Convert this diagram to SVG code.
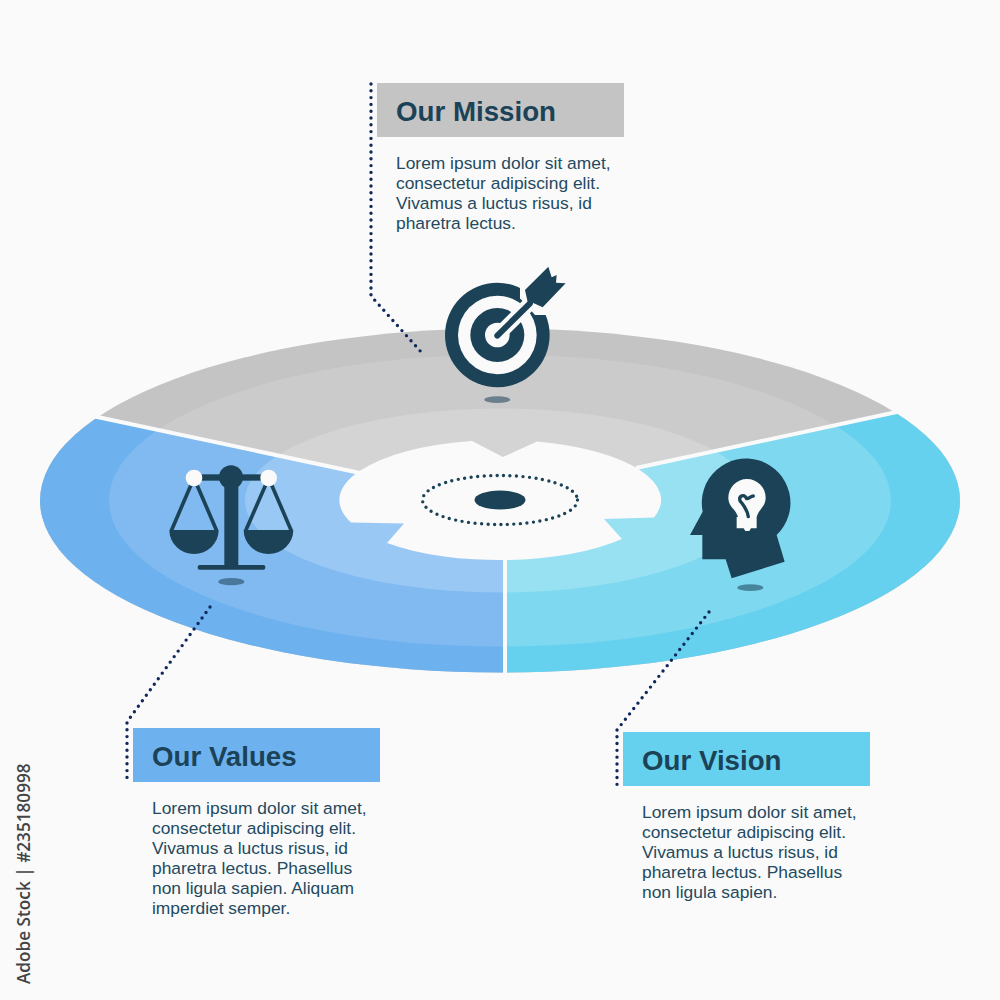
<svg xmlns="http://www.w3.org/2000/svg" width="1000" height="1000" viewBox="0 0 1000 1000">
<style>
.ink{fill:#1c4257}
.shadow{fill:#1c4257;opacity:.55}
.title{font-family:"Liberation Sans",Arial,sans-serif;font-weight:700;font-size:27.700px;fill:#1c4257}
.body{font-family:"Liberation Sans",Arial,sans-serif;font-size:17.400px;fill:#234a60}
.dot{fill:none;stroke:#10295a;stroke-width:3.400;stroke-linecap:round;stroke-dasharray:0 6.800}
.sep{stroke:#fafafa;stroke-width:4;fill:none}
.str{fill:none;stroke:#1c4257;stroke-width:11}
</style>
<defs>
<clipPath id="cb"><polygon points="0,396 503,503 503,700 0,700"/></clipPath>
<clipPath id="cc"><polygon points="507,496 1000,390 1000,700 507,700"/></clipPath>
</defs>
<rect width="1000" height="1000" fill="#fafafa"/>
<g id="disk">
<g id="wedge-mission">
<ellipse cx="500" cy="500.500" rx="460" ry="172" fill="#c4c4c4"/>
<ellipse cx="500" cy="500.500" rx="391" ry="146" fill="#cbcbcb"/>
<ellipse cx="500" cy="500.500" rx="255" ry="92" fill="#d4d4d4"/>
</g>
<g id="wedge-values" clip-path="url(#cb)">
<ellipse cx="500" cy="500.500" rx="460" ry="172" fill="#6db2ef"/>
<ellipse cx="500" cy="500.500" rx="391" ry="146" fill="#80baf0"/>
<ellipse cx="500" cy="500.500" rx="255" ry="92" fill="#98c8f3"/>
</g>
<g id="wedge-vision" clip-path="url(#cc)">
<ellipse cx="500" cy="500.500" rx="460" ry="172" fill="#66d1ef"/>
<ellipse cx="500" cy="500.500" rx="391" ry="146" fill="#7dd8f0"/>
<ellipse cx="500" cy="500.500" rx="255" ry="92" fill="#98e1f2"/>
</g>
<path class="sep" d="M95 416.500L360 473"/>
<path class="sep" d="M899 411.500L636 468"/>
<path id="gap" fill="#fafafa" d="M503 555H507V673H503Z"/>
<path id="hub" fill="#fafafa" d="M503 457L472 441A161 60 0 0 0 351 522.500L404 523.500L387 543A161 60 0 0 0 622 539L604 519L654 517.500A161 60 0 0 0 537 441.500Z"/>
<ellipse cx="500" cy="500" rx="77.500" ry="24.500" fill="none" stroke="#1c4257" stroke-width="3.400" stroke-linecap="round" stroke-dasharray="0 6.500"/>
<ellipse class="ink" cx="500" cy="500" rx="25.500" ry="9.500"/>
</g>
<g id="connectors">
<path class="dot" d="M371 84V296L422 353"/>
<path class="dot" d="M210 607L127 722V783"/>
<path class="dot" d="M709 612L617 730V787"/>
</g>
<g id="node-mission">
<rect x="377" y="83" width="247" height="54" fill="#c4c4c4"/>
<text class="title" x="396" y="121">Our Mission</text>
<text class="body" x="396" y="169">Lorem ipsum dolor sit amet,</text>
<text class="body" x="396" y="189">consectetur adipiscing elit.</text>
<text class="body" x="396" y="209">Vivamus a luctus risus, id</text>
<text class="body" x="396" y="229">pharetra lectus.</text>
<g id="icon-target" transform="translate(420 250) scale(.3333)">
<circle class="ink" cx="232" cy="255" r="157"/>
<circle cx="232" cy="255" r="118" fill="#fafafa"/>
<circle class="ink" cx="232" cy="255" r="81"/>
<circle cx="232" cy="255" r="37" fill="#fafafa"/>
<polygon points="300,100 300,145 345,195 400,195 400,100" fill="#fafafa"/>
<path d="M232 257L330 160" stroke="#fafafa" stroke-width="42" fill="none"/>
<path d="M232 257L330 160" stroke="#1c4257" stroke-width="18" stroke-linecap="round" fill="none"/>
<polygon class="ink" points="315,120 385,50 395,82 410,75 408,98 437,100 368,172 335,157 325,165"/>
<ellipse class="shadow" cx="232" cy="449" rx="39" ry="10"/>
</g>
</g>
<g id="node-values">
<rect x="133" y="728" width="247" height="54" fill="#6db2ef"/>
<text class="title" x="152" y="766">Our Values</text>
<text class="body" x="152" y="814">Lorem ipsum dolor sit amet,</text>
<text class="body" x="152" y="834">consectetur adipiscing elit.</text>
<text class="body" x="152" y="854">Vivamus a luctus risus, id</text>
<text class="body" x="152" y="874">pharetra lectus. Phasellus</text>
<text class="body" x="152" y="894">non ligula sapien. Aliquam</text>
<text class="body" x="152" y="914">imperdiet semper.</text>
<g id="icon-scales" transform="translate(150 450) scale(.3333)">
<path class="str" d="M64 242L132 84L200 242"/>
<path class="str" d="M287 242L356 84L424 242"/>
<path class="ink" d="M58 240A74 72 0 0 0 206 240Z"/>
<path class="ink" d="M281 240A74.500 72 0 0 0 430 240Z"/>
<rect class="ink" x="133" y="73" width="222" height="19"/>
<circle class="ink" cx="243" cy="82" r="36"/>
<rect class="ink" x="223" y="90" width="42" height="262"/>
<rect class="ink" x="143" y="345" width="203" height="14" rx="6"/>
<circle cx="132" cy="84" r="25" fill="#fafafa"/>
<circle cx="356" cy="84" r="25" fill="#fafafa"/>
<ellipse class="shadow" cx="244" cy="395" rx="39" ry="11"/>
</g>
</g>
<g id="node-vision">
<rect x="623" y="732" width="247" height="54" fill="#66d1ef"/>
<text class="title" x="642" y="770">Our Vision</text>
<text class="body" x="642" y="818">Lorem ipsum dolor sit amet,</text>
<text class="body" x="642" y="838">consectetur adipiscing elit.</text>
<text class="body" x="642" y="858">Vivamus a luctus risus, id</text>
<text class="body" x="642" y="878">pharetra lectus. Phasellus</text>
<text class="body" x="642" y="898">non ligula sapien.</text>
<g id="icon-head" transform="translate(670 450) scale(.3333)">
<path class="ink" d="M60 255L98 185A133 133 0 1 1 320 255L344 335L185 385L167 328H97V255Z"/>
<path fill="#fafafa" d="M204 201C198 178 175 170 175 143A56 56 0 0 1 287 143C287 170 266 178 260 201V235H243L238 243H226L221 235H200V201Z"/>
<path d="M235 200C232 178 222 168 210 152C206 138 222 130 230 146C238 146 242 138 250 138" fill="none" stroke="#1c4257" stroke-width="10" stroke-linecap="round"/>
<ellipse class="shadow" cx="241" cy="413" rx="39" ry="10"/>
</g>
</g>
<text id="credit" transform="translate(29.500 984) rotate(-90)" font-family="'Open Sans',sans-serif" font-weight="600" font-size="17.200" fill="#444">Adobe Stock | #235180998</text>
</svg>
